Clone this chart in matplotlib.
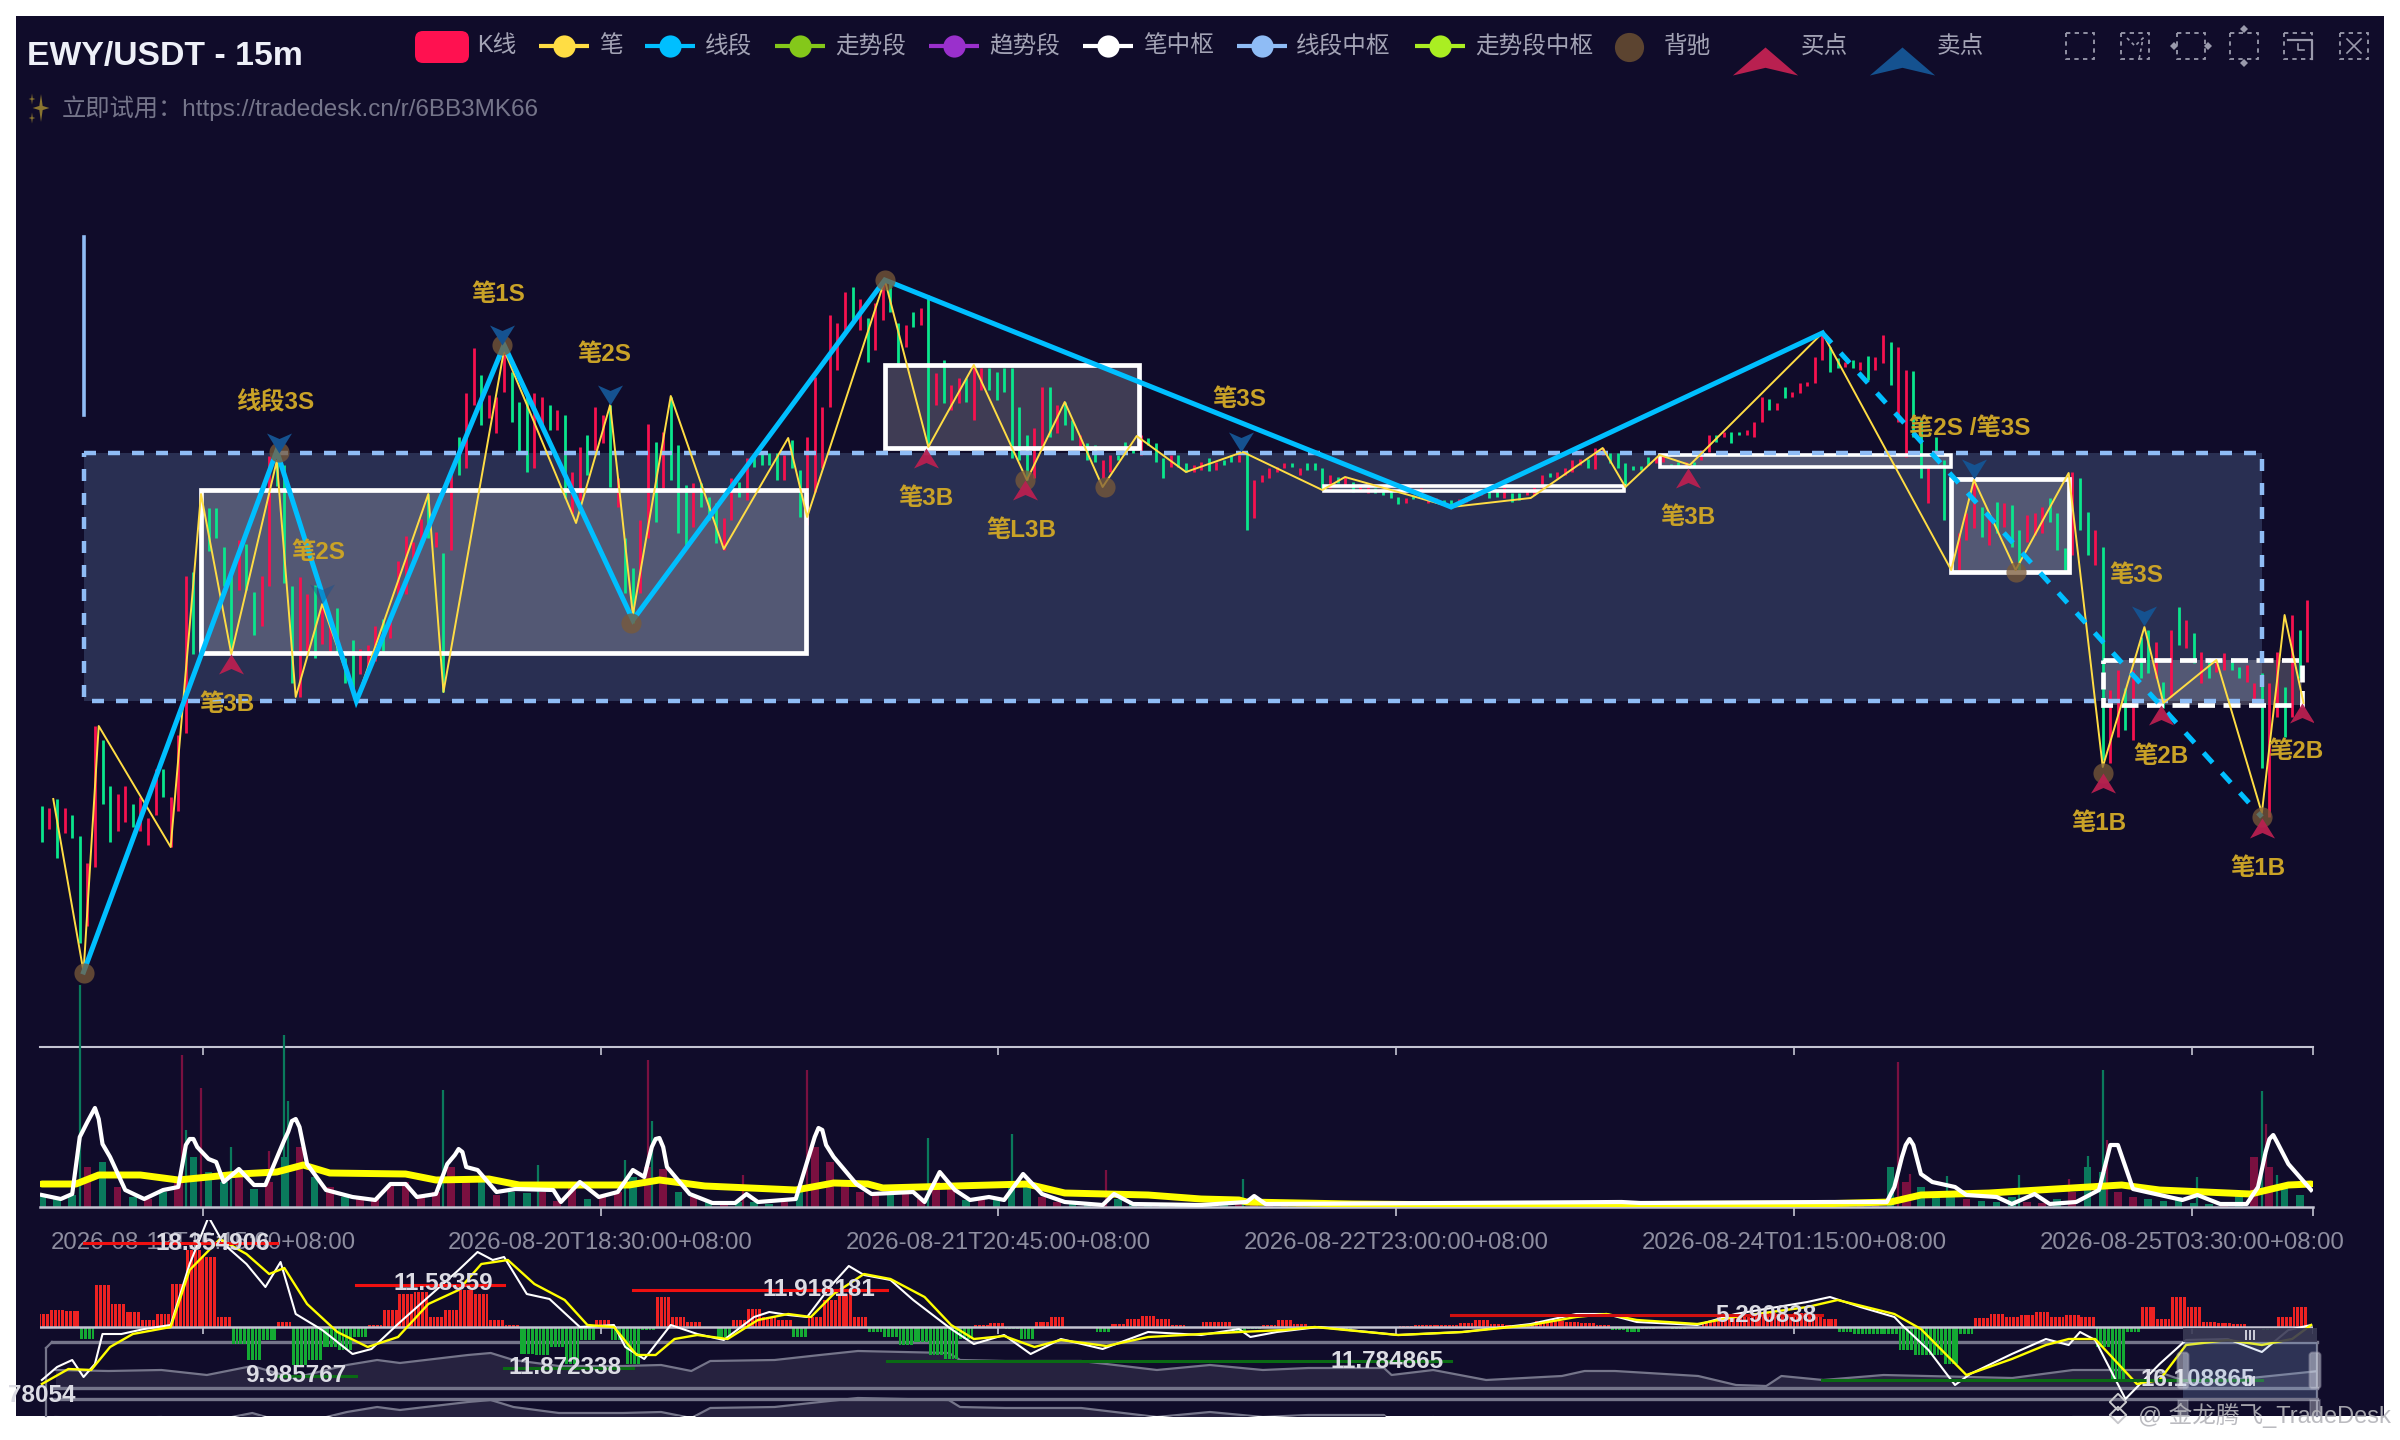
#!/usr/bin/env python3
# -*- coding: utf-8 -*-
import matplotlib
matplotlib.use('Agg')
import matplotlib.pyplot as plt
from matplotlib import font_manager, ft2font
from matplotlib.patches import Rectangle, FancyBboxPatch
from matplotlib.path import Path

plt.rcParams['font.family'] = ['Liberation Sans', 'Noto Sans CJK SC', 'DejaVu Sans']

BG = '#100c2a'
RED = '#f7114f'
GREEN = '#0ae68c'
YELLOW = '#ffdd44'
BLUE = '#00bfff'
ZONE = '#8fbcf5'
GOLD = '#c9a227'
BUY = '#b92050'
SELL = '#155290'
GREY = '#a3a3b5'

# every second bar of the 600 candles, chart scale runs downward
candle_high = [806, 808, 799, 808, 815, 836, 863, 726, 740, 786, 794, 786, 804, 797, 818, 769, 769, 797, 735, 576,
               572, 490, 508, 508, 547, 574, 540, 544, 592, 576, 456, 461, 465, 586, 577, 594, 585, 608, 626, 608,
               658, 640, 649, 645, 626, 619, 619, 561, 536, 542, 519, 494, 532, 553, 473, 437, 393, 348, 375, 395,
               397, 345, 372, 402, 393, 393, 397, 405, 410, 415, 472, 447, 435, 407, 415, 405, 478, 538, 568, 520,
               424, 442, 432, 397, 445, 485, 483, 483, 497, 503, 518, 478, 482, 458, 455, 453, 453, 453, 455, 440,
               470, 437, 377, 407, 315, 323, 292, 287, 299, 318, 303, 280, 280, 323, 325, 312, 308, 295, 373, 360,
               385, 378, 378, 365, 368, 368, 372, 368, 368, 407, 435, 428, 387, 387, 405, 402, 420, 435, 443, 445,
               460, 455, 455, 442, 448, 435, 438, 443, 458, 455, 455, 463, 465, 462, 458, 462, 460, 455, 455, 452,
               480, 475, 468, 467, 463, 463, 468, 463, 463, 468, 475, 477, 477, 482, 485, 487, 488, 490, 490, 497,
               498, 495, 488, 498, 498, 500, 500, 499, 497, 492, 490, 488, 490, 487, 493, 493, 490, 487, 475, 473,
               472, 468, 460, 459, 459, 448, 448, 453, 453, 463, 466, 466, 457, 457, 455, 464, 462, 462, 462, 450,
               435, 435, 432, 432, 432, 430, 422, 397, 399, 403, 387, 392, 383, 382, 357, 333, 347, 358, 362, 360,
               362, 356, 357, 335, 342, 347, 370, 371, 420, 465, 437, 460, 517, 533, 513, 482, 507, 517, 502, 503,
               505, 530, 515, 513, 507, 498, 513, 548, 472, 478, 512, 530, 547, 690, 670, 688, 670, 637, 630, 642,
               682, 630, 607, 620, 633, 652, 658, 660, 653, 658, 667, 665, 683, 673, 683, 652, 687, 615, 630, 600]
candle_low = [842, 829, 858, 833, 838, 943, 926, 867, 804, 842, 831, 822, 827, 831, 845, 815, 797, 847, 811, 733,
              654, 590, 551, 538, 586, 654, 590, 590, 635, 626, 586, 486, 583, 683, 697, 651, 658, 644, 654, 654,
              683, 690, 674, 669, 661, 651, 638, 601, 594, 561, 547, 538, 547, 692, 550, 475, 468, 405, 425, 418,
              433, 392, 422, 453, 472, 468, 425, 430, 430, 498, 513, 500, 475, 450, 443, 487, 507, 593, 623, 593,
              538, 522, 488, 480, 533, 548, 527, 507, 520, 543, 550, 520, 497, 500, 467, 465, 465, 480, 480, 468,
              517, 525, 492, 468, 407, 370, 330, 322, 330, 362, 350, 320, 312, 363, 347, 327, 325, 447, 405, 403,
              410, 403, 402, 420, 390, 390, 400, 392, 458, 460, 480, 478, 450, 437, 433, 425, 440, 450, 460, 462,
              478, 472, 460, 453, 453, 455, 445, 462, 478, 467, 467, 472, 472, 470, 471, 470, 465, 462, 462, 530,
              518, 482, 478, 472, 468, 467, 475, 470, 470, 488, 488, 483, 485, 492, 490, 493, 493, 495, 498, 504,
              503, 499, 495, 503, 503, 503, 506, 503, 502, 498, 495, 498, 497, 498, 502, 500, 495, 495, 488, 477,
              478, 475, 472, 465, 468, 469, 455, 463, 468, 487, 470, 470, 465, 463, 462, 467, 466, 466, 467, 460,
              452, 442, 437, 443, 435, 435, 437, 422, 410, 410, 398, 397, 393, 386, 383, 360, 372, 368, 367, 368,
              370, 380, 370, 363, 385, 422, 457, 437, 478, 503, 458, 520, 570, 570, 540, 528, 537, 545, 533, 527,
              547, 570, 542, 535, 533, 522, 550, 570, 555, 530, 555, 565, 760, 763, 737, 730, 740, 678, 673, 678,
              708, 697, 645, 648, 663, 683, 678, 672, 670, 670, 678, 682, 703, 768, 817, 717, 737, 717, 678, 662]
candle_col = ('grgrggrrggrrgrrrgrrr' 'grggggrggrrgggrrgrrg' 'ggrrrgrrrrrgrgrgrrgr'
              'rrgggrrgrgrrgrrgrggr' 'rgrgggrgggrrgrggggrg' 'grrrrrrgrgrrggrgrgrg'
              'rrgrrggggggrrgrggrgg' 'rrgggrgggrggrrgrggrg' 'rrrrrgrgggrgrgrrgggg'
              'rgrrrggrrrrggrggrrrg' 'rrrrgrrggggggrrggrgr' 'rgrggrrrgrgrrrrrggrg'
              'rgrrgrrggrgggrrrgrgr' 'ggrrrgggrggrgrrgrggr' 'grgrgrgrrggrrgrrgrgr')

# 笔 and 线段 turning points, bar number and chart value
bi_x = [3, 11, 15, 34, 42, 50, 62, 67, 74, 83, 102, 106, 122, 141, 150, 156, 166, 180, 197, 202, 222.5, 234, 246, 260,
        270, 280, 289, 302, 317, 338, 344, 372, 393, 412, 418, 427, 435, 470, 504, 510, 521, 535, 544, 555, 560, 574,
        586, 592, 597]
bi_y = [799, 972, 726, 847, 494, 654, 461, 697, 604, 701, 494, 692, 350, 523, 405, 615, 396, 549, 438, 517, 280, 447,
        365, 480, 402, 487, 436, 472, 452, 490, 477, 507, 498, 448, 487, 455, 465, 333, 570, 480, 570, 473, 767, 627,
        703, 660, 813, 615, 703]
seg_x = [11, 62, 83, 122, 156, 222.5, 372, 470]
seg_y = [972, 451, 701, 345, 620, 280, 507, 333]
seg_dash_x = [470, 586]
seg_dash_y = [333, 817]

# 中枢 boxes
pen_box_left = [42, 222.5, 338.5, 427, 504]
pen_box_right = [201.7, 289.5, 417.5, 504, 535]
pen_box_top = [490, 365, 486, 455, 479]
pen_box_bottom = [653, 448, 491, 467, 572]
last_box = [544, 596.5, 660, 705]
seg_box = [11, 586, 453, 701]
stray_bar_x = 11
stray_bar_y = [237, 415]

buy_x = [50, 233.5, 259.5, 434.5, 544, 559.5, 586, 596.5]
buy_y = [654, 448, 480, 468, 773, 705, 818, 703]
sell_x = [62.5, 74, 121.5, 150, 316.5, 510, 555]
sell_y = [453, 604, 345, 405, 452, 479, 626]
sell_a = [1, 0.45, 1, 1, 1, 1, 1]
div_x = [11, 62.5, 121.5, 155.5, 222.5, 259.5, 280.5, 521, 544, 586]
div_y = [973, 452, 345, 623, 280, 480, 487, 572, 773, 817]

label_txt = ['线段3S', '笔1S', '笔2S', '笔2S', '笔3B', '笔3B', '笔L3B', '笔3S', '笔3B', '笔2S /笔3S',
             '笔3S', '笔2B', '笔1B', '笔1B', '笔2B']
label_x = [61.5, 120.5, 148.5, 73, 49, 233.5, 258.5, 316, 434.5, 509, 553, 559.5, 543, 585, 595]
label_y = [402.5, 294.5, 354.5, 552.5, 704.5, 498.5, 530.5, 400, 517.5, 428.5, 575.5, 756.5, 823.5, 868.5, 751.5]

# volume panel
vol_values = [10, 8, 12, 40, 45, 20, 10, 8, 15, 25, 50, 35, 25, 30, 18, 25, 50, 60, 30, 20,
              10, 8, 8, 22, 25, 10, 15, 40, 30, 28, 12, 15, 14, 15, 6, 20, 8, 12, 15, 30,
              40, 38, 15, 10, 5, 3, 5, 5, 3, 5, 15, 60, 45, 25, 15, 12, 13, 13, 8, 25,
              18, 7, 8, 7, 25, 20, 10, 5, 3, 3, 3, 8, 3, 2, 2, 2, 2, 2, 2, 3,
              5, 3, 2, 2, 2, 2, 2, 2, 2, 2, 2, 2, 2, 2, 2, 2, 2, 2, 2, 2,
              2, 2, 2, 2, 3, 3, 2, 2, 2, 2, 2, 2, 2, 2, 2, 2, 3, 4, 3, 3,
              4, 6, 40, 25, 20, 15, 12, 8, 6, 5, 10, 5, 4, 8, 15, 40, 35, 15, 10, 8,
              6, 10, 4, 3, 3, 15, 50, 40, 22, 12]
spike_x = [10, 37, 42, 38, 64, 65, 106, 160, 161, 202, 234, 256, 281, 185, 131, 50, 60, 154,
           317, 490, 493, 522, 540, 535, 544, 545, 569, 586, 587, 590, 503]
spike_v = [222, 152, 119, 77, 172, 106, 117, 147, 86, 137, 69, 73, 37, 32, 42, 60, 56, 47,
           28, 145, 33, 32, 51, 28, 137, 67, 30, 116, 83, 32, 31]
spike_col = 'grrggggrgrggrrggrggrrggrgrggrgg'
vol_ma_x = [0, 5, 8, 10, 12, 14, 15, 16, 18, 22,
            27, 32, 36, 38, 39, 40, 41, 44, 46, 48,
            52, 56, 59, 64, 65, 66, 67, 68, 70, 75,
            82, 88, 92, 96, 99, 104, 107, 109, 110, 111,
            112, 115, 120, 125, 135, 137, 142, 147, 152, 156,
            159, 161, 162, 163, 164, 165, 171, 177, 183, 186,
            189, 199, 204, 205, 206, 207, 209, 215, 219, 230,
            233, 237, 241, 245, 250, 254, 259, 264, 270, 280,
            283, 288, 306, 318, 320, 323, 417, 422, 472, 487,
            489, 491, 492, 493, 494, 496, 499, 505, 508, 516,
            520, 526, 530, 537, 543, 546, 548, 552, 565, 569,
            575, 582, 585, 587, 588, 589, 590, 593, 599]
vol_ma_v = [12, 8, 13, 70, 85, 99, 88, 63, 50, 17,
            8, 17, 20, 62, 68, 68, 60, 48, 45, 25,
            38, 22, 22, 67, 75, 86, 88, 80, 43, 17,
            10, 7, 23, 23, 10, 13, 43, 52, 58, 55,
            40, 37, 15, 18, 17, 5, 25, 10, 15, 37,
            30, 60, 68, 69, 60, 40, 13, 4, 4, 13,
            5, 8, 70, 79, 77, 62, 50, 23, 13, 15,
            5, 35, 17, 7, 10, 7, 33, 13, 5, 2,
            13, 3, 2, 5, 11, 3, 5, 4, 5, 5,
            20, 50, 62, 68, 62, 33, 25, 20, 12, 10,
            3, 13, 3, 5, 17, 62, 62, 18, 7, 12,
            3, 3, 20, 55, 68, 72, 65, 43, 17]
vol_long_x = [0, 9, 15, 26, 36, 52, 62, 69, 76, 96, 104, 118, 126, 155, 163, 175, 199, 209, 218, 222, 260, 270, 292,
              306, 316, 318, 346, 377, 468, 488, 496, 514, 549, 559, 583, 593, 599]
vol_long_v = [23, 23, 32, 32, 27, 33, 35, 42, 34, 33, 27, 28, 22, 22, 27, 21, 17, 24, 23, 19, 23, 14, 12,
              8, 7, 5, 3, 2, 3, 5, 12, 14, 22, 17, 13, 22, 23]

# MACD panel
macd_hist = [13, 17, 16, -12, 42, 23, 15, 7, 13, 43, 77, 70, 10, -17, -33, -13, 5, -38, -33, -20,
             -23, -10, 2, 17, 33, 35, 10, 17, 37, 33, 7, 2, -27, -28, -20, -37, -13, 7, -13, -37,
             -3, 30, 10, 5, 0, -10, 7, 18, 10, 7, -10, 10, 27, 33, 10, -5, -10, -18, -15, -28,
             -32, -12, 2, 4, -2, -12, 5, 10, 0, -1, -5, 3, 8, 11, 8, 2, 0, 5, 5, -5,
             -2, 2, 7, 3, 1, -1, -2, -1, -1, -1, 1, 2, 2, 2, 4, 7, 3, 2, 3, 6,
             6, 5, 4, 2, -3, -5, -2, -1, -2, -1, 5, 10, 12, 13, 14, 13, 14, 12, 8, -5,
             -7, -7, -7, -23, -28, -28, -37, -7, 9, 13, 10, 12, 15, 10, 12, 10, -20, -53, -5, 20,
             8, 30, 20, 5, 4, 3, -2, -3, 10, 20]
dif_x = [0, 4, 8, 11, 14, 16, 21, 27, 34, 39, 44, 48, 54, 59, 63, 67, 74, 82, 87, 94, 102, 110, 115, 119, 122, 128,
         134, 142, 151, 154, 159, 166, 173, 180, 188, 192, 197, 202, 208, 213, 217, 224, 230, 240, 246, 254, 261, 269,
         280, 292, 306, 316, 319, 326, 337, 358, 375, 393, 405, 413, 421, 437, 447, 466, 472, 480, 489, 491, 498, 505,
         509, 520, 529, 535, 538, 542, 550, 559, 566, 577, 586, 593, 599]
dif_y = [-53, -40, -33, -50, -37, -7, -7, -2, 2, 63, 110, 83, 63, 40, 65, 13, -3, -27, -22, 3, 30, 57, 75, 67, 70, 33,
         28, 0, 2, -20, -32, 2, -7, -13, 10, 15, 12, 10, 40, 61, 52, 47, 27, -2, -17, -8, -27, -12,
         -22, -5, -8, -2, -10, -5, 0, -8, -5, 3, 13, 13, 5, 2, 13, 25, 30, 20, 10, 2, -23, -58,
         -47, -27, -12, -18, -5, -13, -72, -37, -13, -12, -25, -3, 2]
dea_x = [0, 7, 13, 18, 24, 34, 39, 47, 54, 60, 64, 70, 78, 86, 94, 102, 110, 116, 123, 130, 138, 144, 151, 157, 162,
         167, 173, 181, 189, 197, 203, 209, 217, 224, 233, 240, 246, 254, 262, 269, 281, 292, 306, 316, 328, 336, 358,
         375, 393, 405, 413, 421, 437, 447, 466, 474, 489, 496, 508, 520, 529, 535, 542, 553, 559, 566, 577, 586, 594,
         599]
dea_y = [-57, -42, -43, -20, -7, 0, 57, 88, 73, 53, 59, 23, -5, -20, -10, 23, 37, 63, 67, 43, 27, 2, 0, -28, -28,
         -12, -8, -12, 7, 13, 10, 33, 53, 48, 30, 2, -12, -9, -20, -13, -19, -10, -7, -5, -3, 0, -8,
         -5, 2, 10, 13, 7, 3, 10, 20, 27, 13, -2, -48, -32, -18, -12, -12, -57, -53, -18, -13, -18, -12,
         2]
mark_start = [11, 83, 156, 372, 62, 122, 223, 470]
mark_end = [62, 122, 223, 470, 83, 156, 372, 586]
mark_val = [84, 42, 37, 12, -49, -41, -34, -53]
mark_col = ['#f01010', '#f01010', '#f01010', '#d01010', '#0a6a14', '#0a6a14', '#0a6a14', '#0a6a14']
mark_txt = ['18.354906', '11.58359', '11.918181', '5.290838', '9.985767', '11.872338', '11.784865', '16.108865']
mark_txt_x = [45, 106, 205, 455, 67, 138, 355, 569]
mark_txt_y = [84, 43, 37, 12, -49, -40, -34, -53]

# slider sparkline
spark_x = [1, 15, 29, 41, 53, 64, 78, 86, 92, 110, 116, 122, 134, 151, 161, 169, 174, 191, 203, 213, 237, 240, 252,
           272, 292, 306, 320, 332, 352, 354, 365, 379, 399, 405, 413, 435, 445, 453, 457, 468, 484, 518, 534, 555,
           559, 565, 581, 599]
spark_v = [18, 17, 18, 13, 22, 10, 23, 28, 25, 33, 35, 28, 22, 22, 23, 17, 27, 28, 33, 37, 35, 28, 27,
           27, 18, 23, 18, 20, 20, 13, 18, 8, 12, 17, 17, 12, 3, 2, 12, 8, 13, 10, 18, 18,
           13, 5, 10, 17]

tick_x = [42.5, 147.5, 252.5, 357.5, 462.5, 567.5, 599.5]
tick_txt = ['2026-08-19T16:15:00+08:00', '2026-08-20T18:30:00+08:00', '2026-08-21T20:45:00+08:00',
            '2026-08-22T23:00:00+08:00', '2026-08-24T01:15:00+08:00', '2026-08-25T03:30:00+08:00', '']

legend_line_x = [564, 670, 800, 954, 1108, 1262, 1440]
legend_line_col = [YELLOW, BLUE, '#84c81a', '#9a30cc', '#ffffff', ZONE, '#aaee22']
legend_txt = ['K线', '笔', '线段', '走势段', '趋势段', '笔中枢', '线段中枢', '走势段中枢', '背驰', '买点', '卖点']
legend_txt_x = [477, 599, 705, 835, 989, 1143, 1296, 1475, 1664, 1801, 1937]
toolbox_x = [2080, 2135, 2191, 2244, 2298, 2354]


def panel(fig, left, right, top, bottom):
    # axes placed by pixel rows of the 2400x1440 canvas
    return fig.add_axes([left / 2400, 1 - bottom / 1440, (right - left) / 2400, (bottom - top) / 1440])


def arrow(width_ratio, flip=False):
    h = width_ratio
    verts = [(0, h), (1, -h), (0, -h * 0.45), (-1, -h), (0, h)]
    if flip:
        verts = [(x, -y) for x, y in verts]
    return Path(verts, [Path.MOVETO, Path.LINETO, Path.LINETO, Path.LINETO, Path.CLOSEPOLY])


def sparkle_family():
    # first installed family that really has U+2728
    for fam in ['DejaVu Sans', 'Noto Sans', 'Noto Sans CJK SC', 'Liberation Sans', 'Roboto', 'Open Sans', 'Lato', 'Inter']:
        try:
            font = ft2font.FT2Font(font_manager.findfont(fam, fallback_to_default=False))
        except ValueError:
            continue
        if font.get_char_index(0x2728):
            return fam
    return None


fig = plt.figure(figsize=(24, 14.4), dpi=100, facecolor='white')

# canvas backdrop
back = fig.add_axes([0, 0, 1, 1], zorder=0)
back.set_xlim(0, 2400)
back.set_ylim(1440, 0)
back.axis('off')
back.add_patch(Rectangle((16, 16), 2368, 1400, color=BG, lw=0))

# main chart
ax = panel(fig, 40, 2313, 0, 1047)
ax.set_zorder(1)
ax.patch.set_alpha(0)
ax.set_xlim(-0.5, 599.5)
ax.set_ylim(1047, 0)
for s in ['top', 'left', 'right']:
    ax.spines[s].set_visible(False)
ax.spines['bottom'].set_color('#c4c4d2')
ax.spines['bottom'].set_linewidth(1.5)
ax.set_yticks([])
ax.set_xticks(tick_x)
ax.set_xticklabels([])
ax.tick_params(axis='x', color='#c4c4d2', length=6, width=1.2)

ax.add_patch(Rectangle((seg_box[0], seg_box[2]), seg_box[1] - seg_box[0], seg_box[3] - seg_box[2],
                       facecolor=ZONE, alpha=0.2, lw=0, zorder=1))
for l, r, t, b in zip(pen_box_left, pen_box_right, pen_box_top, pen_box_bottom):
    ax.add_patch(Rectangle((l, t), r - l, b - t, facecolor='white', alpha=0.2, lw=0, zorder=1))
ax.add_patch(Rectangle((last_box[0], last_box[2]), last_box[1] - last_box[0], last_box[3] - last_box[2],
                       facecolor='white', alpha=0.2, lw=0, zorder=1))

bars = list(range(0, 600, 2))
colors = [RED if c == 'r' else GREEN for c in candle_col]
ax.vlines(bars, candle_high, candle_low, colors=colors, lw=2.0, zorder=2)

for l, r, t, b in zip(pen_box_left, pen_box_right, pen_box_top, pen_box_bottom):
    ax.add_patch(Rectangle((l, t), r - l, b - t, fill=False, edgecolor='white', lw=3.4 if b - t > 60 else 2.6,
                           zorder=3))
ax.add_patch(Rectangle((last_box[0], last_box[2]), last_box[1] - last_box[0], last_box[3] - last_box[2],
                       fill=False, edgecolor='white', lw=3.4, ls=(0, (3.6, 1.8)), zorder=3))
ax.add_patch(Rectangle((seg_box[0], seg_box[2]), seg_box[1] - seg_box[0], seg_box[3] - seg_box[2],
                       fill=False, edgecolor=ZONE, lw=3.2, ls=(0, (2.7, 2.7)), zorder=3))
ax.plot([stray_bar_x, stray_bar_x], stray_bar_y, color=ZONE, lw=2.6, zorder=3)

ax.plot(bi_x, bi_y, color=YELLOW, lw=1.4, zorder=4)
ax.plot(seg_x, seg_y, color=BLUE, lw=3.6, zorder=5, solid_joinstyle='miter')
ax.plot(seg_dash_x, seg_dash_y, color=BLUE, lw=3.6, ls=(0, (2.7, 2.7)), zorder=5)

ax.scatter(div_x, div_y, s=14.5 ** 2, color='#7a5a38', alpha=0.75, lw=0, zorder=6)
ax.scatter(buy_x, [y + 10 for y in buy_y], marker=arrow(0.8), s=18 ** 2, color=BUY, lw=0, zorder=7, alpha=0.95)
for x, y, a in zip(sell_x, sell_y, sell_a):
    ax.scatter([x], [y - 10], marker=arrow(0.8, flip=True), s=18 ** 2, color=SELL, lw=0, zorder=7, alpha=a)
for t, x, y in zip(label_txt, label_x, label_y):
    ax.text(x, y, t, color=GOLD, fontsize=17.5, fontweight='bold', ha='center', va='center', zorder=8)

# volume panel
vol = panel(fig, 40, 2313, 1047, 1207)
vol.set_zorder(2)
vol.patch.set_alpha(0)
vol.set_xlim(-0.5, 599.5)
vol.set_ylim(0, 160)
for s in ['top', 'left', 'right']:
    vol.spines[s].set_visible(False)
vol.spines['bottom'].set_color('#c4c4d2')
vol.spines['bottom'].set_linewidth(1.8)
vol.set_yticks([])
vol.set_xticks(tick_x)
vol.set_xticklabels(tick_txt, fontsize=17.3, color='#8e8ea0')
vol.tick_params(axis='x', color='#c4c4d2', length=6.5, width=1.2, pad=11.7)

vol_x = list(range(0, 600, 4))
vol_col = ['#7a1040' if candle_col[x // 2] == 'r' else '#0a7a5c' for x in vol_x]
vol.bar(vol_x, vol_values, width=2.0, color=vol_col, lw=0, zorder=1)
spike_colors = ['#7a1040' if c == 'r' else '#0a7a5c' for c in spike_col]
vol.vlines(spike_x, 0, spike_v, colors=spike_colors, lw=1.6, zorder=2, clip_on=False)
vol.plot(vol_long_x, vol_long_v, color='#ffff00', lw=5, zorder=3, solid_capstyle='round')
vol.plot(vol_ma_x, vol_ma_v, color='white', lw=3.0, zorder=4)

# slider strips, behind the MACD panel
strip = panel(fig, 46, 2317, 1342, 1388)
strip.set_zorder(3)
strip.set_xlim(-1.5, 598.5)
strip.set_ylim(0, 46)
strip.axis('off')
strip.fill_between(spark_x, 0, spark_v, color='#26223f', lw=0)
strip.plot(spark_x, spark_v, color='#75758a', lw=1.6)

strip2 = panel(fig, 46, 2317, 1390, 1416)
strip2.set_zorder(3)
strip2.set_xlim(-1.5, 598.5)
strip2.set_ylim(19, 45)
strip2.axis('off')
strip2.fill_between(spark_x, 0, spark_v, color='#26223f', lw=0)
strip2.plot(spark_x, spark_v, color='#75758a', lw=1.6)

back2 = fig.add_axes([0, 0, 1, 1], zorder=3.5)
back2.patch.set_alpha(0)
back2.set_xlim(0, 2400)
back2.set_ylim(1440, 0)
back2.axis('off')
for y in [1342, 1388, 1399]:
    back2.plot([52, 2317], [y, y], color='#75758a', lw=2.4)
back2.plot([46, 46], [1348, 1416], color='#75758a', lw=1.6)
back2.plot([46, 52], [1348, 1342], color='#75758a', lw=1.6)
back2.plot([2317, 2317], [1342, 1416], color='#75758a', lw=1.6)

# MACD panel
macd = panel(fig, 40, 2313, 1220, 1416)
macd.set_zorder(4)
macd.patch.set_alpha(0)
macd.set_xlim(-0.5, 599.5)
macd.set_ylim(-89, 107)
macd.axis('off')
hist_col = ['#ee2222' if v >= 0 else '#14aa33' for v in macd_hist]
for offset in [-1.5, -0.5, 0.5, 1.5]:
    macd.bar([x + offset for x in range(0, 600, 4)], macd_hist, width=0.75, color=hist_col, lw=0, zorder=1)
macd.axhline(0, color='#c4c4d2', lw=1.8, zorder=2)
macd.vlines(tick_x, -7, 0, color='#c4c4d2', lw=1.2, zorder=2)
macd.plot(dif_x, dif_y, color='white', lw=1.5, zorder=3)
macd.plot(dea_x, dea_y, color='#ffff00', lw=1.7, zorder=4)
for a, b, v, c in zip(mark_start, mark_end, mark_val, mark_col):
    macd.plot([a, b], [v, v], color=c, lw=2.2, zorder=5)
for t, x, y in zip(mark_txt, mark_txt_x, mark_txt_y):
    macd.text(x, y, t, color='#dcdce4', fontsize=17.5, fontweight='bold', ha='center', va='center', zorder=6,
              clip_on=False)
macd.text(9, -68, '78054', color='#dcdce4', fontsize=17.5, fontweight='bold', ha='right', va='center', zorder=6,
          clip_on=False)

# titles, legend, toolbox and slider handles
ui = fig.add_axes([0, 0, 1, 1], zorder=5)
ui.patch.set_alpha(0)
ui.set_xlim(0, 2400)
ui.set_ylim(1440, 0)
ui.axis('off')
ui.text(27, 56, 'EWY/USDT - 15m', color='#eef0f8', fontsize=24.3, fontweight='bold', va='center')

fam = sparkle_family()
if fam:
    ui.text(27, 108, '✨', color='#a58a2c', fontsize=17.5, va='center', family=[fam])
else:
    # no installed font has the sparkle, so draw its three stars
    star = Path([(0, 1), (0.12, 0.15), (0.6, 0), (0.12, -0.15), (0, -1), (-0.12, -0.15), (-0.6, 0), (-0.12, 0.15), (0, 1)])
    ui.scatter([41, 32, 32], [108, 99, 118], marker=star, s=[20 ** 2, 8 ** 2, 8 ** 2], color='#8a7530', lw=0)
ui.text(62, 108, '立即试用：https://tradedesk.cn/r/6BB3MK66', color='#75758a', fontsize=17.5, va='center')

ui.add_patch(FancyBboxPatch((421, 37), 42, 20, boxstyle='round,pad=6,rounding_size=8', color='#ff1150', lw=0))
for x, c in zip(legend_line_x, legend_line_col):
    ui.plot([x - 25, x + 25], [46, 46], color=c, lw=3, solid_capstyle='butt')
    ui.plot([x], [46], 'o', color=c, ms=16, mew=0)
for t, x in zip(legend_txt, legend_txt_x):
    ui.text(x, 46.5, t, color=GREY, fontsize=17, va='center')
ui.plot([1629], [47], 'o', color='#5c4430', ms=21, mew=0)
ui.scatter([1765], [61], marker=arrow(0.43), s=47 ** 2, color=BUY, lw=0)
ui.scatter([1902], [61], marker=arrow(0.43), s=47 ** 2, color=SELL, lw=0)

for n, x in enumerate(toolbox_x):
    ui.add_patch(Rectangle((x - 14, 33), 28, 26, fill=False, edgecolor='#9a9aac', lw=1.3, ls=(0, (2.4, 2.4))))
    if n == 1:
        ui.plot([x - 8, x, x + 8, x + 4], [38, 46, 38, 60], color='#9a9aac', lw=1.2, ls=(0, (2, 2)))
    elif n == 2:
        ui.plot([x - 17, x + 17], [46, 46], ls='', marker='D', ms=4, color='#9a9aac', mew=0)
    elif n == 3:
        ui.plot([x, x], [29, 63], ls='', marker='D', ms=4, color='#9a9aac', mew=0)
    elif n == 4:
        ui.plot([x - 10, x + 14, x + 14], [40, 40, 59], color='#9a9aac', lw=1.6)
        ui.plot([x, x, x + 6], [44, 50, 50], color='#9a9aac', lw=1.2)
    elif n == 5:
        ui.plot([x - 7, x + 7], [39, 53], color='#9a9aac', lw=1.2)
        ui.plot([x - 7, x + 7], [53, 39], color='#9a9aac', lw=1.2)

ui.add_patch(Rectangle((2183, 1342), 134, 56, facecolor='#8fb0e0', alpha=0.24, lw=0))
ui.add_patch(Rectangle((2183, 1328), 134, 14, facecolor='#3a3a55', alpha=0.9, lw=0))
for x in [2183, 2315]:
    ui.add_patch(FancyBboxPatch((x - 3, 1355), 6, 31, boxstyle='round,pad=2.5,rounding_size=3',
                                facecolor='#eef0f8', alpha=0.45, edgecolor='#a8a8ba', lw=1.4))
    ui.add_patch(Rectangle((x - 5, 1400), 10, 16, facecolor='#eef0f8', alpha=0.35, edgecolor='#a8a8ba', lw=1.2))
ui.vlines([2246, 2250, 2254], 1330, 1340, color='#e8e8f0', lw=1.2)
ui.vlines([2246, 2250, 2254], 1376, 1386, color='#e8e8f0', lw=1.2)

# watermark
ui.scatter([2118, 2118], [1402, 1415], marker='D', s=70, facecolor='none', edgecolor='#c8c8cc', lw=1.4)
ui.text(2138, 1415, '@ 金龙腾飞_TradeDesk', color='#b4b4ba', fontsize=17, va='center', alpha=0.9)

fig.savefig('out.png', dpi=100, facecolor='white')
